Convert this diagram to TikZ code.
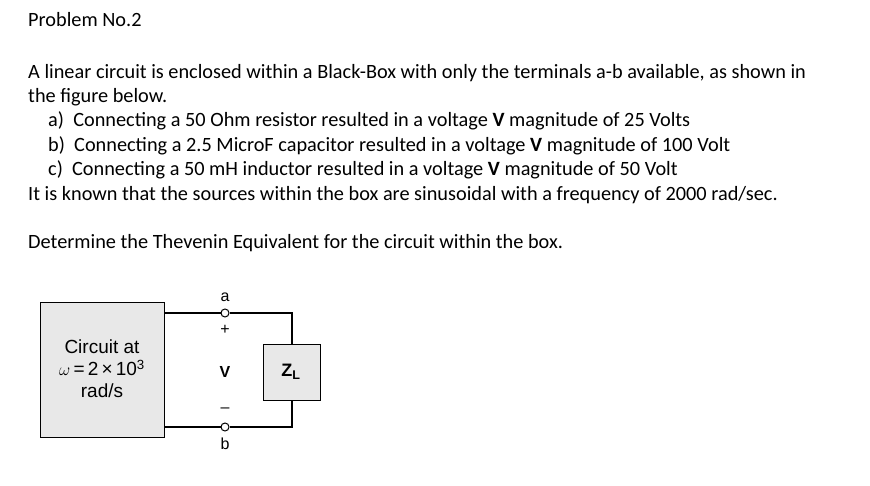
\documentclass[tikz,border=0pt]{standalone}
\usepackage{fontspec}
\setmainfont{Carlito}
\newfontfamily\circfont{Liberation Sans}
\begin{document}
\begin{tikzpicture}[x=1pt,y=-1pt,
  txt/.style={anchor=base west,inner sep=0pt,font=\fontsize{20.3}{24}\selectfont},
  wire/.style={line width=1.3pt},
  term/.style={circle,draw,line width=1pt,fill=white,inner sep=0pt,minimum size=8pt},
  lbl/.style={inner sep=0pt,font=\circfont\fontsize{16}{18}\selectfont}]
\useasboundingbox (0,0) rectangle (870,486);
\node[txt] (t0) at (28,27) {Problem No.2};
\node[txt] (t1) at (28,79) {A linear circuit is enclosed within a Black-Box with only the terminals a-b available, as shown in};
\node[txt] (t2) at (28,103) {the figure below.};
\node[txt] (t3) at (48,127) {a)\ \ Connecting a 50 Ohm resistor resulted in a voltage \textbf{V} magnitude of 25 Volts};
\node[txt] (t4) at (48,152) {b)\ \ Connecting a 2.5 MicroF capacitor resulted in a voltage \textbf{V} magnitude of 100 Volt};
\node[txt] (t5) at (48,176) {c)\ \ Connecting a 50 mH inductor resulted in a voltage \textbf{V} magnitude of 50 Volt};
\node[txt] (t6) at (28,201) {It is known that the sources within the box are sinusoidal with a frequency of 2000 rad/sec.};
\node[txt] (t7) at (28,249) {Determine the Thevenin Equivalent for the circuit within the box.};
% black box
\node[draw,line width=1.2pt,fill=gray!18,minimum width=124pt,minimum height=135pt,anchor=north west,inner sep=0pt] (box) at (40,302) {};
\node[lbl,align=center,font=\circfont\fontsize{19}{22}\selectfont] (bt) at (102,369) {Circuit at\\ $\omega$\,=\,2\,×\,10\textsuperscript{3}\\ rad/s};
\node[term] (a) at (225,313) {};
\node[term] (b) at (225,427) {};
\node[draw,line width=1.2pt,fill=gray!18,minimum width=57pt,minimum height=56pt,anchor=north west,inner sep=0pt] (zl) at (263,344) {};
\node[lbl,font=\circfont\bfseries\fontsize{18}{20}\selectfont] (zt) at (291,372) {Z\textsubscript{L}};
\coordinate (c1) at (292,313);
\coordinate (c2) at (292,427);
\draw[wire] (box.east |- a) -- (a) -- (c1) -- (zl.north -| c1);
\draw[wire] (box.east |- b) -- (b) -- (c2) -- (zl.south -| c2);
\node[lbl] (la) at (225,297) {a};
\node[lbl] (lp) at (225,330) {+};
\node[lbl,font=\circfont\bfseries\fontsize{16}{18}\selectfont] (lv) at (225,372) {V};
\node[lbl] (lm) at (225,410) {\textendash};
\node[lbl] (lb) at (225,444) {b};
\end{tikzpicture}
\end{document}
